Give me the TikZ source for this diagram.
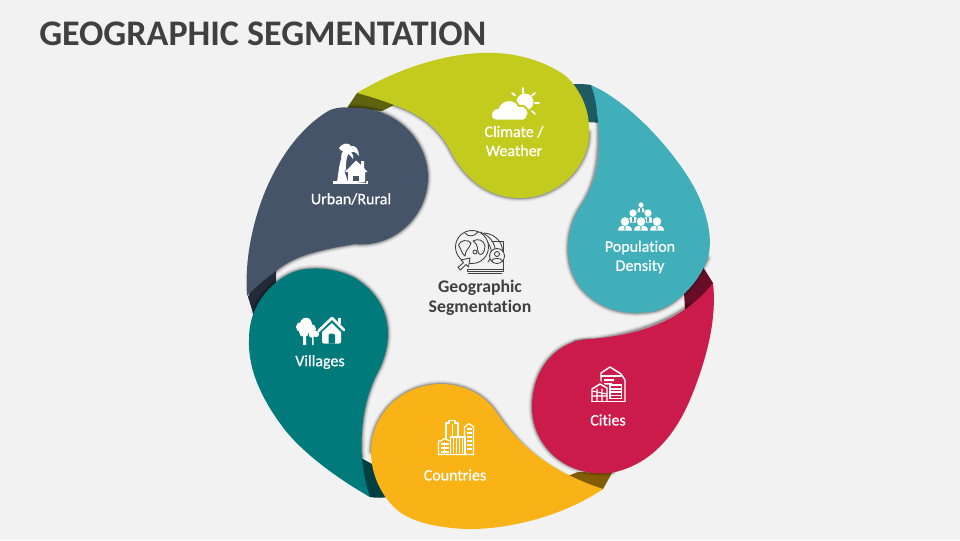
\documentclass[tikz,border=0pt]{standalone}
\usepackage{fontspec}
\setmainfont[RawFeature={-liga}]{Carlito}
\newfontfamily\lblfont[RawFeature={embolden=0.7;-liga}]{Carlito}
\definecolor{bgc}{HTML}{F2F2F2}
\definecolor{titlec}{HTML}{404040}
\definecolor{oliveM}{HTML}{C3CB1F}\definecolor{oliveD}{HTML}{5F6310}
\definecolor{aquaM}{HTML}{40AFBA}\definecolor{aquaD}{HTML}{1F5A62}
\definecolor{redM}{HTML}{CB1B4B}\definecolor{redD}{HTML}{670D26}
\definecolor{yelM}{HTML}{FAB316}\definecolor{yelD}{HTML}{835D05}
\definecolor{tealM}{HTML}{007A7B}\definecolor{tealD}{HTML}{003F42}
\definecolor{slateM}{HTML}{465469}\definecolor{slateD}{HTML}{232B38}
\tikzset{
  lbl/.style={text=white,font=\lblfont\fontsize{12pt}{14.3pt}\selectfont,align=center,inner sep=0pt},
  centerlbl/.style={text=titlec,font=\bfseries\fontsize{13.3pt}{15.4pt}\selectfont,align=center,inner sep=0pt},
  wl/.style={white,line width=1pt,line cap=round,line join=round},
  gl/.style={titlec,line width=.65pt,line join=round,line cap=round},
}
\newcommand{\softshadow}[1]{%
  \foreach \w/\o in {5.5/.05,4/.08,2.6/.12,1.4/.18}{%
    \draw[black,opacity=\o,line width=\w pt,line cap=round] #1;}}
\begin{document}
\begin{tikzpicture}[x=0.75pt,y=-0.75pt]
\useasboundingbox (0,0) rectangle (960,540);
\fill[bgc] (0,0) rectangle (960,540);
\node[anchor=west,inner sep=0pt,text=titlec,font=\bfseries\fontsize{27pt}{30pt}\selectfont] (title) at (39,34) {GEOGRAPHIC SEGMENTATION};

% folds (each runs on under its own shape)
\fill[oliveD] (357,93) -- (347,108) -- (382,111) -- (394,105) -- (380,90) -- cycle;
\fill[aquaD] (572,84) .. controls (580,84) and (586,84) .. (591,85) -- (605,100) -- (605,123) -- (585,122) -- cycle;
\fill[redD] (703,267) -- (713,283) -- (712,300) -- (690,315) -- (685,310) -- (684,292) -- cycle;
\fill[yelD] (565,477) -- (578,472) -- (612,473) -- (603,489) -- (585,492) -- cycle;
\fill[tealD] (355,470) -- (361,458) -- (374,465) -- (388,497) .. controls (382,498) and (376,498) .. (370,497) -- (360,490) -- cycle;
\fill[slateD] (270,265) -- (276,271) -- (276,292) -- (254,316) -- (248,297) -- (255,280) -- cycle;

% crimson
\softshadow{(575,342) .. controls (615,337) and (655,330) .. (690,305)}
\softshadow{(613,472) .. controls (565,478) and (531,445) .. (532,405) .. controls (533,370) and (555,340) .. (590,340)}
\fill[redM] (713,283) .. controls (716,310) and (712,345) .. (692,395)
  .. controls (675,437) and (650,465) .. (611,473)
  .. controls (565,478) and (531,445) .. (532,405)
  .. controls (533,365) and (560,340) .. (590,339)
  .. controls (630,336) and (680,325) .. (713,283) -- cycle;
% aqua
\softshadow{(598,120) .. controls (600,160) and (595,185) .. (580,207) .. controls (565,230) and (563,265) .. (580,287) .. controls (600,312) and (630,316) .. (655,311) .. controls (675,306) and (695,285) .. (708,258)}
\fill[aquaM] (591,85) .. controls (625,100) and (665,140) .. (690,180)
  .. controls (705,205) and (714,235) .. (708,258)
  .. controls (698,285) and (675,306) .. (655,311)
  .. controls (630,316) and (600,312) .. (580,287)
  .. controls (563,265) and (565,230) .. (580,207)
  .. controls (595,185) and (602,160) .. (598,123)
  .. controls (597,110) and (596,98) .. (591,85) -- cycle;
% olive
\softshadow{(394,105) .. controls (415,112) and (437,125) .. (450,150) .. controls (465,180) and (490,199) .. (522,198) .. controls (560,197) and (590,165) .. (589,132)}
\fill[oliveM] (357,93) .. controls (395,70) and (440,55) .. (480,53)
  .. controls (515,51) and (548,62) .. (567,77)
  .. controls (582,92) and (590,112) .. (589,132)
  .. controls (590,165) and (560,197) .. (522,198)
  .. controls (490,199) and (465,180) .. (450,150)
  .. controls (437,125) and (415,112) .. (394,105)
  .. controls (382,100) and (368,96) .. (357,93) -- cycle;
% yellow
\softshadow{(566,477) .. controls (535,460) and (515,440) .. (497,413) .. controls (485,395) and (465,384) .. (440,384) .. controls (400,385) and (371,415) .. (371,452)}
\fill[yelM] (603,489) .. controls (565,515) and (510,530) .. (465,529)
  .. controls (430,527) and (405,520) .. (392,505)
  .. controls (378,490) and (371,470) .. (371,452)
  .. controls (371,415) and (400,385) .. (440,384)
  .. controls (465,384) and (485,395) .. (497,413)
  .. controls (515,440) and (545,470) .. (603,489) -- cycle;
% slate
\softshadow{(276,271) .. controls (295,255) and (320,250) .. (355,244) .. controls (395,248) and (429,215) .. (428,175) .. controls (426,135) and (390,105) .. (350,108)}
\fill[slateM] (247,296) .. controls (245,265) and (250,235) .. (260,205)
  .. controls (272,170) and (295,130) .. (330,110)
  .. controls (338,107) and (345,107) .. (350,108)
  .. controls (390,105) and (426,135) .. (428,175)
  .. controls (429,215) and (395,248) .. (355,244)
  .. controls (320,250) and (295,255) .. (276,271)
  .. controls (265,279) and (255,287) .. (247,296) -- cycle;
% teal
\softshadow{(362,458) .. controls (360,425) and (365,395) .. (380,368) .. controls (395,335) and (390,300) .. (355,278) .. controls (340,270) and (320,266) .. (300,270) .. controls (280,275) and (262,292) .. (254,312)}
\fill[tealM] (370,497) .. controls (340,480) and (305,455) .. (285,430)
  .. controls (262,400) and (248,370) .. (249,340)
  .. controls (249,325) and (252,318) .. (254,312)
  .. controls (262,292) and (280,275) .. (300,270)
  .. controls (320,266) and (340,270) .. (355,278)
  .. controls (390,300) and (395,335) .. (380,368)
  .. controls (365,395) and (360,425) .. (362,458)
  .. controls (363,472) and (366,485) .. (370,497) -- cycle;

% ---- icons ----
% sun + cloud
\fill[white] (525,102) circle (8.5);
\draw[white,line width=1.3pt,line cap=round]
  (523,88)--(523,93) (512,93)--(515,95.5) (535,93)--(532,95.5) (535,103)--(539,103) (532,111)--(535,114);
\path[fill=white,draw=oliveM,line width=1.4pt]
  (496,120.5) .. controls (488,120) and (490,108) .. (498,108)
  .. controls (500,100) and (514,96) .. (519,106)
  .. controls (527,104) and (531,113) .. (527,117)
  .. controls (526,120) and (525,120.5) .. (523,120.5) -- cycle;
% palm house
\fill[white] (333,180.5) rectangle (368,184) ;
\fill[white] (337,182) .. controls (339,170) and (339,160) .. (345,151) -- (349,152)
  .. controls (345,160) and (345,172) .. (348,182) -- cycle;
\fill[white] (339,148) .. controls (342,143) and (349,142) .. (351,146)
  .. controls (356,145) and (359,150) .. (359,156) .. controls (356,152) and (353,151) .. (351,152)
  .. controls (353,154) and (354,157) .. (353,159) .. controls (350,155) and (348,153) .. (346,153)
  .. controls (344,155) and (343,157) .. (341,158) .. controls (341,155) and (342,152) .. (343,151)
  .. controls (341,151) and (340,150) .. (339,148) -- cycle;
\fill[slateM] (344.5,171.5) -- (356,159.5) -- (368,171) -- (366,183) -- (348,181) -- cycle;
\fill[white] (345,172) -- (356,160.5) -- (361,165) -- (361,161) -- (364,161) -- (364,168) -- (367.5,172) -- (365,172) -- (365,182) -- (348,182) -- (348,172) -- cycle;
\fill[slateM] (353,176) rectangle (359,180.5);
% population
\foreach \x/\y/\r/\s in {641/205/2.6/.75,633/213/3.6/1,648/213/3.6/1}{
  \fill[white] (\x,\y) circle (\r);
  \fill[white] (\x-\s*4.5,\y+\s*9.5) .. controls (\x-\s*5,\y+\s*5) and (\x-\s*3,\y+\s*3.5) .. (\x,\y+\s*3.5)
     .. controls (\x+\s*3,\y+\s*3.5) and (\x+\s*5,\y+\s*5) .. (\x+\s*4.5,\y+\s*9.5) -- cycle;
  \fill[aquaM] (\x-.6,\y+\s*4) rectangle (\x+.6,\y+\s*9);
}
\foreach \x in {625,641,657}{
  \fill[aquaM] (\x,221) circle (5.4);
  \fill[white] (\x,221.5) circle (4.3);
  \fill[white] (\x-7,230.5) .. controls (\x-7,227) and (\x-4,225.5) .. (\x,225.5)
     .. controls (\x+4,225.5) and (\x+7,227) .. (\x+7,230.5) -- cycle;
  \fill[aquaM] (\x-.7,226) -- (\x+.7,226) -- (\x+.4,230.5) -- (\x-.4,230.5) -- cycle;
}
% city (crimson)
\draw[wl,line width=1.1pt] (601,399) -- (601,373) -- (610,367) -- (621,374) -- (625,380) -- (625,401.5);
\draw[wl,line width=.8pt] (601,376) -- (621,376);
\fill[white] (604,379) rectangle (614,381) (604,383) rectangle (612,384.5);
\fill[white] (609,383.5) rectangle (622,399);
\foreach \y in {386,389.5,393,396}{\fill[redM] (611,\y) rectangle (620.5,\y+1.5);}
\fill[redM] (590,384) -- (600,381) -- (608,387) -- (608,402) -- (590,402) -- cycle;
\draw[wl,line width=1.1pt] (592,401.5) -- (592,389) -- (600,384) -- (607,388) -- (607,401.5);
\draw[wl,line width=1.1pt] (592,401.5) -- (625,401.5);
\draw[wl,line width=.8pt] (592,391) -- (607,394) (592,396) -- (607,396) (597,389) -- (597,401) (602,389) -- (602,401);
% tree + house
\fill[white] (301,327) circle (5) (306,323.5) circle (5.8) (311,329) circle (5) (304,332) circle (5);
\fill[white] (316,334) circle (3.2) (311.5,335) circle (2.6);
\fill[white] (303,334) rectangle (306,345) (312,336) rectangle (313.5,345);
\draw[white,line width=2pt,line cap=round,line join=round] (318.5,331) -- (332,318) -- (344,330);
\fill[white] (338,318) rectangle (340.5,324);
\fill[white] (322,332) -- (332,323) -- (341,332) -- (341,342) .. controls (341,343) and (340,343.5) .. (339,343.5) -- (324,343.5) .. controls (323,343.5) and (322,343) .. (322,342) -- cycle;
\fill[tealM] (328.5,343.5) -- (328.5,335) .. controls (329,333) and (334,333) .. (335,335) -- (335,343.5) -- cycle;
% buildings
\begin{scope}[wl,line width=.9pt]
\draw (438.5,454.5) -- (473.5,454.5) -- (473.5,427) -- (469,423.5) -- (464.5,427) -- (464.5,437);
\draw (446,438) -- (446,423) -- (449,423) -- (449,420.5) -- (455,420.5) -- (455,423) -- (458,423) -- (458,437);
\draw (438.5,454) -- (438.5,441) -- (441,441) -- (444,438.5) -- (450,441);
\draw (450.5,454) -- (450.5,437) -- (465,437) -- (465,454);
\end{scope}
\foreach \x in {453,456,459,462}{\draw[white,line width=.7pt] (\x,438) -- (\x,453);}
\foreach \y in {429,433,437,441,445,449}{\draw[white,line width=.9pt] (467,\y) -- (472,\y);}
\foreach \y in {444,448,452}{\draw[white,line width=.9pt] (441,\y) -- (449,\y);}
\draw[white,line width=.6pt] (452,424) -- (452,436) (444,442) -- (444,454);
% centre globe
\begin{scope}[gl]
\draw (484,233) .. controls (497,234) and (504,245) .. (502,252);
\draw (481,236) .. controls (492,243) and (494,255) .. (488,262);
\draw (480,232) .. controls (491,236) and (499,246) .. (494,262);
\draw (492,241) -- (503,241) -- (503,270);
\fill[bgc] (472,247) circle (16.5);
\draw (472,247) circle (16.5);
\draw (458.5,245) .. controls (460,240) and (468,239) .. (471,243) .. controls (470,248) and (465,250) .. (465,256) .. controls (462,254) and (461,249) .. (458.5,245) -- cycle;
\draw (473,241) .. controls (478,238) and (484,240) .. (485,246) .. controls (485,252) and (482,256) .. (479,254) .. controls (476,250) and (480,246) .. (473,241) -- cycle;
\draw (465,233) .. controls (468,237) and (474,237) .. (478,232);
\fill[bgc] (497,256) circle (7.5);
\draw (497,256) circle (7.5);
\draw (497,254) circle (2.5);
\draw (491.5,261) .. controls (492,257.5) and (502,257.5) .. (502.5,261);
\draw[fill=bgc] (475,252) circle (2);
\draw[fill=bgc] (470,258) -- (461,260) -- (463.5,262.5) -- (458,267.5) -- (460.5,270) -- (466,264.5) -- (468.5,267) -- cycle;
\draw[fill=bgc] (467,269) -- (503,269) -- (503,271.5) -- (467,271.5) -- cycle;
\draw (468,273) -- (502,273);
\end{scope}
% ---- labels ----
\node[lbl] (l1) at (514,141) {Climate /\\Weather};
\node[lbl] (l2) at (640,257) {Population\\Density};
\node[lbl] (l3) at (608,420) {Cities};
\node[lbl] (l4) at (455,475) {Countries};
\node[lbl] (l5) at (320,362) {Villages};
\node[lbl] (l6) at (351,199) {Urban/Rural};
\node[centerlbl] (c) at (480,298) {Geographic\\Segmentation};
\end{tikzpicture}
\end{document}
